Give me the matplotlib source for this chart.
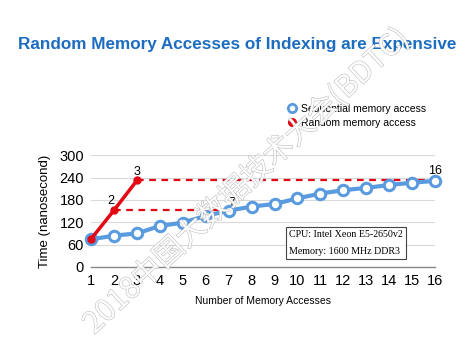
import numpy as np
import matplotlib
matplotlib.use('Agg')
import matplotlib.pyplot as plt
import matplotlib.patheffects as pe

# data
accesses = list(range(1, 17))
seq_time = [74, 84, 90, 110, 119, 137, 151, 162, 169, 184, 197, 206, 212, 220, 226, 231]
rand_accesses = [1, 2, 3]
rand_time = [75, 152, 232]
yticks = [0, 60, 120, 180, 240, 300]

plt.rcParams['font.family'] = ['Liberation Sans', 'DejaVu Sans']

fig = plt.figure(figsize=(4.74, 3.55), dpi=100)
ax = fig.add_axes([0.192, 0.248, 0.726, 0.315])

blue = '#5A9BE0'
red = '#E30613'

# dashed reference lines from the random points
ax.plot([rand_accesses[2], accesses[-1]], [rand_time[2], rand_time[2]], color=red, ls=(0, (3, 2.5)), lw=1.6, zorder=3)
ax.plot([rand_accesses[1], accesses[6]], [rand_time[1], rand_time[1]], color=red, ls=(0, (3, 2.5)), lw=1.6, zorder=3)

ax.plot(accesses, seq_time, color=blue, lw=3, marker='o', ms=7.5, mfc='white', mec=blue, mew=2.2,
        zorder=4, label='Sequential memory access', clip_on=False)
ax.plot(rand_accesses, rand_time, color=red, lw=2.5, marker='o', ms=5, mfc=red, mec=red,
        zorder=5, clip_on=False)

# legend handles (markers only)
h1, = ax.plot([], [], ls='none', marker='o', ms=6, mfc='white', mec=blue, mew=2)
h2, = ax.plot([], [], ls='none', marker='o', ms=5.5, mfc=red, mec=red)
fig.legend([h1, h2], ['Sequential memory access', 'Random memory access'],
           loc='upper left', bbox_to_anchor=(0.595, 0.72), frameon=False, fontsize=7.5,
           handletextpad=0.2, labelspacing=0.4, handlelength=1.2, borderaxespad=0)

# point labels
ax.text(2, rand_time[1] + 8, '2', ha='right', va='bottom', fontsize=9)
ax.text(3, rand_time[2] + 6, '3', ha='center', va='bottom', fontsize=9)
ax.text(7, rand_time[1] + 3, '7', ha='left', va='bottom', fontsize=9)
ax.text(16, seq_time[-1] + 10, '16', ha='center', va='bottom', fontsize=9)

ax.text(9.62, 64, 'CPU: Intel Xeon E5-2650v2\n\nMemory: 1600 MHz DDR3', fontsize=7.2,
        family='Liberation Serif', va='center', ha='left', linespacing=0.9,
        bbox=dict(boxstyle='square,pad=0.3', fc='white', ec='#444444', lw=0.8), zorder=6)

ax.set_xlim(1, 16)
ax.set_ylim(0, 300)
ax.set_xticks(accesses)
ax.set_yticks(yticks)
ax.tick_params(length=0, labelsize=10.5, pad=5)
ax.yaxis.grid(True, color='#d9d9d9', lw=0.8)
ax.set_axisbelow(True)
for s in ['top', 'right', 'left']:
    ax.spines[s].set_visible(False)
ax.spines['bottom'].set_color('#888888')
ax.spines['bottom'].set_linewidth(1)

ax.set_ylabel('Time (nanosecond)', fontsize=9.5, labelpad=6)
ax.set_xlabel('Number of Memory Accesses', fontsize=7.5, labelpad=6)

fig.text(0.5, 0.875, 'Random Memory Accesses of Indexing are Expensive', ha='center', va='center',
         fontsize=12.3, fontweight='bold', color='#1C6DC1')

# watermark
fig.text(0.52, 0.49, '2018中国大数据技术大会(BDTC)', rotation=43, ha='center', va='center',
         fontsize=21.5, color='white', family=['Noto Sans CJK SC', 'DejaVu Sans'],
         path_effects=[pe.withStroke(linewidth=0.7, foreground='#b0b0b0')], zorder=10, alpha=0.85)

fig.savefig('out.png', dpi=100)
